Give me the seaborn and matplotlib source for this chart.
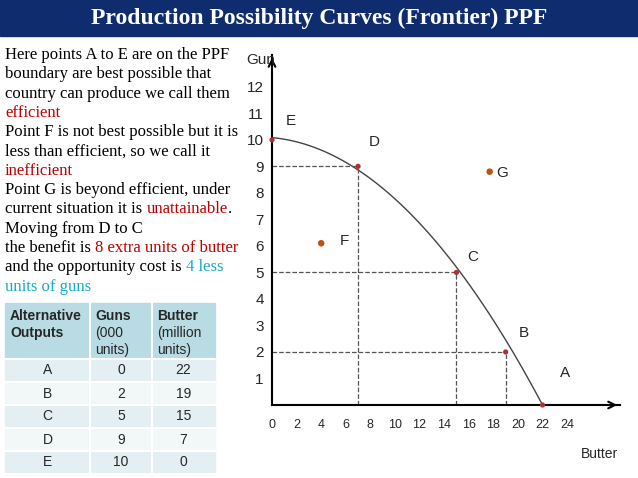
import numpy as np
import pandas as pd
import matplotlib
matplotlib.use("Agg")
import matplotlib.pyplot as plt
import seaborn as sns

labels = ["A", "B", "C", "D", "E"]
guns = [0, 2, 5, 9, 10]
butter = [22, 19, 15, 7, 0]
other_labels = ["F", "G"]
other_butter = [4, 17.7]
other_guns = [6.1, 8.8]
xticks = list(range(0, 25, 2))
yticks = list(range(1, 13))

sns.set_theme(style="white")
plt.rcParams['font.family'] = ['Liberation Sans', 'DejaVu Sans']

fig = plt.figure(figsize=(6.38, 4.78), dpi=100)
fig.patches.append(plt.Rectangle((0, 1 - 36/478), 1, 36/478, transform=fig.transFigure,
                                 color="#0f2d6e", zorder=0))
fig.text(0.5, 1 - 18/478, "Production Possibility Curves (Frontier) PPF", ha="center", va="center",
         color="white", fontsize=17, fontweight="bold", family="Liberation Serif")

ax = fig.add_axes([272/638, 73/478, 348/638, 350/478])
df = pd.DataFrame({"butter": butter, "guns": guns, "label": labels})
coef = np.polyfit(df.butter, df.guns, 2)
bx = np.linspace(0, 22, 100)
gv = np.polyval(coef, bx)
shift = np.polyval(coef, 22)
curve = pd.DataFrame({"b": bx, "g": gv - shift * bx / 22})
sns.lineplot(data=curve, x="b", y="g", ax=ax, color="#444444", lw=1)
sns.scatterplot(data=df, x="butter", y="guns", ax=ax, color="#b03030", s=14, zorder=5,
                edgecolor="none", clip_on=False)
sns.scatterplot(x=other_butter, y=other_guns, ax=ax, color="#c05010", s=22, zorder=5, edgecolor="none")
for b, g in zip(butter[1:4], guns[1:4]):
    ax.plot([0, b], [g, g], ls="--", color="#555555", lw=0.9)
    ax.plot([b, b], [0, g], ls="--", color="#555555", lw=0.9)
offs = {"A": (1.8, 1.2), "B": (1.5, 0.7), "C": (1.3, 0.6), "D": (1.3, 0.9), "E": (1.5, 0.7)}
for l, b, g in zip(labels, butter, guns):
    ax.text(b + offs[l][0], g + offs[l][1], l, fontsize=11, va="center", ha="center")
ax.text(other_butter[0] + 1.5, other_guns[0] + 0.1, "F", fontsize=11, va="center")
ax.text(other_butter[1] + 0.5, other_guns[1] - 0.05, "G", fontsize=11, va="center")

ax.set_xlim(0, 28.3)
ax.set_ylim(0, 13.2)
for s in ["top", "right"]:
    ax.spines[s].set_visible(False)
for s in ["left", "bottom"]:
    ax.spines[s].set_color("black"); ax.spines[s].set_linewidth(1.5)
ax.annotate("", xy=(1, 0), xytext=(0.98, 0), xycoords="axes fraction",
            arrowprops=dict(arrowstyle="->", color="black", lw=1.5))
ax.annotate("", xy=(0, 1), xytext=(0, 0.98), xycoords="axes fraction",
            arrowprops=dict(arrowstyle="->", color="black", lw=1.5))
ax.set_xticks(xticks); ax.set_yticks(yticks)
ax.tick_params(axis="y", labelsize=11, length=0, pad=6)
ax.tick_params(axis="x", labelsize=9, length=0, pad=10)
ax.set_xlabel(""); ax.set_ylabel("")
fig.text(600/638, 1 - 454/478, "Butter", fontsize=10, ha="center", va="center")
fig.text(246/638, 1 - 60/478, "Gun", fontsize=11, ha="left", va="center")

lines = [
    [("Here points A to E are on the PPF", "black")],
    [("boundary are best possible that", "black")],
    [("country can produce we call them", "black")],
    [("efficient", "#c00000")],
    [("Point F is not best possible but it is", "black")],
    [("less than efficient, so we call it", "black")],
    [("inefficient", "#c00000")],
    [("Point G is beyond efficient, under", "black")],
    [("current situation it is ", "black"), ("unattainable", "#c00000"), (".", "black")],
    [("Moving from D to C", "black")],
    [("the benefit is ", "black"), ("8 extra units of butter", "#c00000")],
    [("and the opportunity cost is ", "black"), ("4 less", "#17a9c9")],
    [("units of guns", "#17a9c9")],
]
fig.canvas.draw()
r = fig.canvas.get_renderer()
for i, segs in enumerate(lines):
    x = 5
    y = 1 - (55 + i * 19.3) / 478
    for txt, col in segs:
        t = fig.text(x / 638, y, txt, color=col, fontsize=12, family="Liberation Serif", va="center")
        x += t.get_window_extent(r).width

cols_x = [5, 90, 152, 215]
header = ["Alternative\nOutputs", "Guns\n(000\nunits)", "Butter\n(million\nunits)"]
top = 303
hh = 56
rh = 23
fig.patches.append(plt.Rectangle((5/638, 1 - (top + hh)/478), 210/638, hh/478, transform=fig.transFigure,
                                 color="#b9dce4", zorder=0))
for j, h in enumerate(header):
    lns = h.split("\n")
    for k, ln in enumerate(lns):
        bold = (k == 0) or (j == 0)
        fig.text((cols_x[j] + 5) / 638, 1 - (top + 13 + k * 17) / 478, ln, fontsize=10,
                 fontweight="bold" if bold else "normal", va="center")
for i in range(5):
    yt = top + hh + i * rh
    fig.patches.append(plt.Rectangle((5/638, 1 - (yt + rh)/478), 210/638, rh/478, transform=fig.transFigure,
                                     color="#e3eff2" if i % 2 == 0 else "#f2f7f8", zorder=0))
    vals = [labels[i], str(guns[i]), str(butter[i])]
    for j, v in enumerate(vals):
        fig.text((cols_x[j] + cols_x[j + 1]) / 2 / 638, 1 - (yt + rh / 2) / 478, v, fontsize=10,
                 ha="center", va="center")
for cx in cols_x[1:3]:
    fig.lines.append(plt.Line2D([cx/638, cx/638], [1 - top/478, 1 - (top + hh + 5*rh)/478],
                                transform=fig.transFigure, color="white", lw=1.5))
for i in range(6):
    yy = 1 - (top + hh + i * rh) / 478
    fig.lines.append(plt.Line2D([5/638, 215/638], [yy, yy], transform=fig.transFigure, color="white", lw=1.5))

fig.savefig("out.png", dpi=100)
